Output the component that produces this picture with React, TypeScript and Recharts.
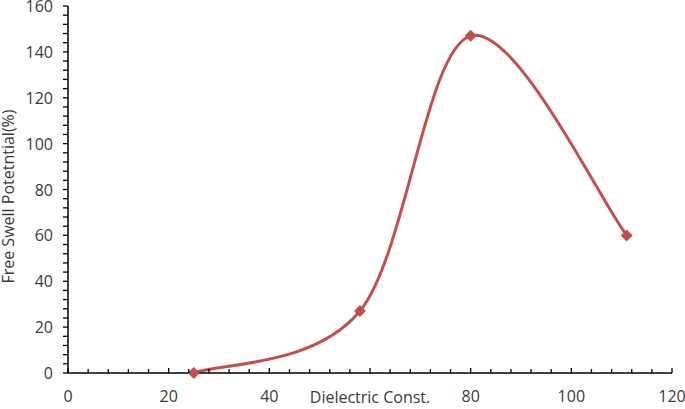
import * as React from 'react';
import { LineChart, Line, XAxis, YAxis, Label } from 'recharts';

// dielectric constant vs free swell potential (%)
const dielectric = [25, 58, 80, 111];
const freeSwell = [0, 27, 147, 60];

const xTicks = [0, 4, 8, 12, 16, 20, 24, 28, 32, 36, 40, 44, 48, 52, 56, 60, 64, 68, 72, 76, 80, 84, 88, 92, 96, 100, 104, 108, 112, 116, 120];
const yTicks = [0, 4, 8, 12, 16, 20, 24, 28, 32, 36, 40, 44, 48, 52, 56, 60, 64, 68, 72, 76, 80, 84, 88, 92, 96, 100, 104, 108, 112, 116, 120, 124, 128, 132, 136, 140, 144, 148, 152, 156, 160];
const hiddenXLabels = [60]; // covered by the axis title

const data = dielectric.map((x, i) => ({ x, y: freeSwell[i] }));

const FONT = '"Open Sans", sans-serif';
const LINE_COLOR = '#c0504d';
const TEXT_COLOR = '#3a3a3a';

// Excel-style smoothed line (cardinal bezier, tension 1/6)
function excelSmooth(context: any) {
  let pts: number[][] = [];
  return {
    areaStart() {},
    areaEnd() {},
    lineStart() { pts = []; },
    point(x: number, y: number) { pts.push([+x, +y]); },
    lineEnd() {
      if (!pts.length) return;
      context.moveTo(pts[0][0], pts[0][1]);
      for (let i = 0; i < pts.length - 1; i++) {
        const p0 = pts[i - 1] || pts[i];
        const p1 = pts[i];
        const p2 = pts[i + 1];
        const p3 = pts[i + 2] || p2;
        context.bezierCurveTo(
          p1[0] + (p2[0] - p0[0]) / 6, p1[1] + (p2[1] - p0[1]) / 6,
          p2[0] - (p3[0] - p1[0]) / 6, p2[1] - (p3[1] - p1[1]) / 6,
          p2[0], p2[1],
        );
      }
    },
  };
}

const XTick = ({ x, y, payload }: any) => {
  const v = payload.value;
  const major = v % 20 === 0;
  return (
    <g>
      <line x1={x} x2={x} y1={y} y2={y - (major ? 5 : 4)} stroke="#000" strokeWidth={1.3} />
      {major && !hiddenXLabels.includes(v) && (
        <text x={x} y={y + 29} textAnchor="middle" fontFamily={FONT} fontSize={16} fill={TEXT_COLOR}>{v}</text>
      )}
    </g>
  );
};

const YTick = ({ x, y, payload }: any) => {
  const v = payload.value;
  const major = v % 20 === 0;
  return (
    <g>
      <line x1={x} x2={x - 5} y1={y} y2={y} stroke="#000" strokeWidth={1.3} />
      {major && (
        <text x={x - 15} y={y + 6} textAnchor="end" fontFamily={FONT} fontSize={16} fill={TEXT_COLOR}>{v}</text>
      )}
    </g>
  );
};

const Diamond = ({ cx, cy }: any) => (
  <path d={`M${cx},${cy - 6}L${cx + 6},${cy}L${cx},${cy + 6}L${cx - 6},${cy}Z`} fill={LINE_COLOR} />
);

const YTitle = ({ viewBox }: any) => {
  const cy = viewBox.y + viewBox.height / 2;
  return (
    <text transform={`translate(14, ${cy + 7}) rotate(-90)`} textAnchor="middle" fontFamily={FONT} fontSize={16} fill={TEXT_COLOR}>
      Free Swell Potetntial(%)
    </text>
  );
};

export default function App() {
  return (
    <div style={{ position: 'absolute', left: 0, top: 0, background: 'white' }}>
      <LineChart width={685} height={409} data={data} margin={{ top: 6, right: 13, left: 0, bottom: 0 }}>
        <XAxis
          dataKey="x"
          type="number"
          domain={[0, 120]}
          ticks={xTicks}
          interval={0}
          tickSize={0}
          tickMargin={0}
          tick={<XTick />}
          axisLine={{ stroke: '#000', strokeWidth: 1.5 }}
          tickLine={false}
          height={36}
        >
          <Label value="Dielectric Const." position="insideBottom" offset={6} fontFamily={FONT} fontSize={16} fill={TEXT_COLOR} />
        </XAxis>
        <YAxis
          type="number"
          domain={[0, 160]}
          ticks={yTicks}
          interval={0}
          tickSize={0}
          tickMargin={0}
          tick={<YTick />}
          axisLine={{ stroke: '#000', strokeWidth: 1.5 }}
          tickLine={false}
          width={68}
        >
          <Label content={<YTitle />} />
        </YAxis>
        <Line
          dataKey="y"
          type={excelSmooth as any}
          stroke={LINE_COLOR}
          strokeWidth={3}
          dot={<Diamond />}
          activeDot={false}
          isAnimationActive={false}
        />
      </LineChart>
    </div>
  );
}
